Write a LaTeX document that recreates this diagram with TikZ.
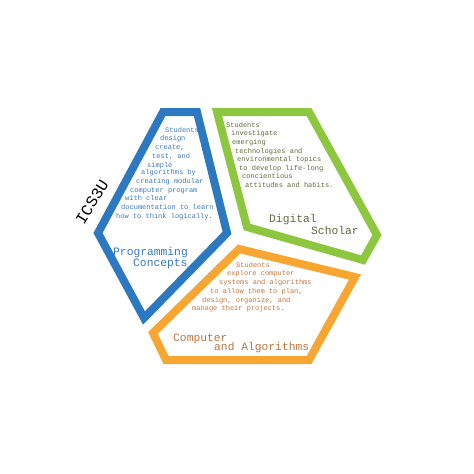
\documentclass[tikz,border=0pt]{standalone}
\usepackage{fontspec}
\setmonofont{Liberation Mono}
\begin{document}
\begin{tikzpicture}[x=1pt,y=-1pt,
  frame/.style={line width=8pt,line join=miter,miter limit=10},
  body/.style={anchor=base west,inner sep=0pt,font=\ttfamily\fontsize{7}{8}\selectfont},
  title/.style={anchor=base west,inner sep=0pt,font=\ttfamily\fontsize{11.3}{12}\selectfont}]
\definecolor{cblue}{RGB}{45,121,193}
\definecolor{cgreen}{RGB}{141,198,63}
\definecolor{corange}{RGB}{247,166,49}
\definecolor{tblue}{RGB}{58,120,186}
\definecolor{tgreen}{RGB}{98,104,62}
\definecolor{torange}{RGB}{190,118,62}
\useasboundingbox[fill=white] (0,0) rectangle (474,474);
% frames
\draw[frame,cblue] (163,112) -- (197,112) -- (227,233) -- (144,318) -- (98,233) -- cycle;
\draw[frame,cgreen] (217,112) -- (309,112) -- (377,235) -- (363,260) -- (247,227) -- cycle;
\draw[frame,corange] (239,249) -- (355,277) -- (309,360) -- (166,360) -- (153,333) -- cycle;
% ICS3U
\node[rotate=58,inner sep=0pt,font=\ttfamily\fontsize{16}{16}\selectfont] (ics) at (92,202) {ICS3U};
% blue text
\begin{scope}[tblue]
\node[body] (b1) at (165,132.5) {Students};
\node[body] (b2) at (160,140.5) {design};
\node[body] (b3) at (155,149.5) {create,};
\node[body] (b4) at (152,158.5) {test, and};
\node[body] (b5) at (147,167.5) {simple};
\node[body] (b6) at (141,174.5) {algorithms by};
\node[body] (b7) at (136,183.5) {creating modular};
\node[body] (b8) at (130,192.5) {computer program};
\node[body] (b9) at (125,200.5) {with clear};
\node[body] (b10) at (121,209.5) {documentation to learn};
\node[body] (b11) at (116,218.5) {how to think logically.};
\node[title] (bt1) at (113,255) {Programming};
\node[title] (bt2) at (133,266.5) {Concepts};
\end{scope}
% green text
\begin{scope}[tgreen]
\node[body] (g1) at (226,127.5) {Students};
\node[body] (g2) at (231,135.5) {investigate};
\node[body] (g3) at (232,144.5) {emerging};
\node[body] (g4) at (235,153.5) {technologies and};
\node[body] (g5) at (237,161.5) {environmental topics};
\node[body] (g6) at (239,170.5) {to develop life-long};
\node[body] (g7) at (242,178.5) {concientious};
\node[body] (g8) at (245,187.5) {attitudes and habits.};
\node[title] (gt1) at (269,222.5) {Digital};
\node[title] (gt2) at (311,234.5) {Scholar};
\end{scope}
% orange text
\begin{scope}[torange]
\node[body] (o1) at (236,267.5) {Students};
\node[body] (o2) at (227,275.5) {explore computer};
\node[body] (o3) at (219,284.5) {systems and algorithms};
\node[body] (o4) at (210,293.5) {to allow them to plan,};
\node[body] (o5) at (202,302.5) {design, organize, and};
\node[body] (o6) at (192,310.5) {manage their projects.};
\node[title] (ot1) at (173,341.5) {Computer};
\node[title] (ot2) at (214,350.5) {and Algorithms};
\end{scope}
\end{tikzpicture}
\end{document}
